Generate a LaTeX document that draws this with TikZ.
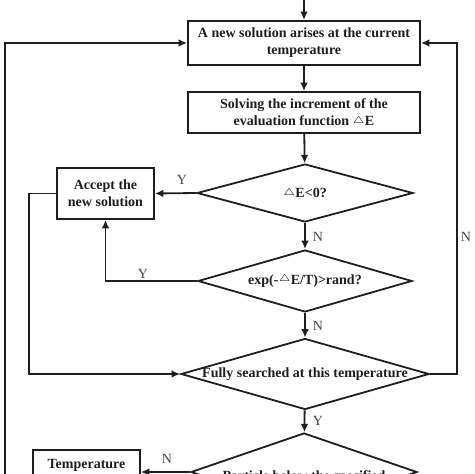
\documentclass[tikz,border=0pt]{standalone}
\usepackage{fontspec}
\setmainfont{Liberation Serif}
\usepackage{tikz}
\usetikzlibrary{arrows.meta,positioning,shapes.geometric}
\definecolor{flowline}{RGB}{30,30,30}
\definecolor{ynlabel}{RGB}{70,70,70}
\newcommand{\dE}{\raisebox{0.4ex}{\tiny$\triangle$}E}

\begin{document}
\begin{tikzpicture}[x=0.5pt,y=-0.5pt,line width=0.9pt,color=flowline,
  arr/.style={-{Latex[length=4.2pt,width=3.8pt]}},
  proc/.style={draw,rectangle,align=center,font=\fontsize{7}{8.5}\selectfont\bfseries,inner sep=1pt},
  dectext/.style={font=\fontsize{7}{8.5}\selectfont\bfseries,inner sep=0pt},
  dec/.style={draw,diamond,inner sep=0pt,label={[dectext]center:#1}},
  yn/.style={font=\fontsize{7}{8}\selectfont,text=ynlabel,inner sep=0pt}]
\clip (0,0) rectangle (474,474);
% boxes
\node[proc,minimum width=116pt,minimum height=22pt] (newsol) at (304,43) {A new solution arises at the current\\temperature};
\node[proc,minimum width=116pt,minimum height=20.5pt] (incr) at (304,112.5) {Solving the increment of the\\evaluation function \dE};
\node[proc,minimum width=48.5pt,minimum height=25.5pt] (accept) at (105.5,193.5) {Accept the\\new solution};
\node[proc,minimum width=53.5pt,minimum height=22pt] (temp) at (86.5,472) {Temperature\\\mbox{}};
% decisions
\node[dec={\dE<0?},minimum width=108pt,minimum height=29pt] (negE) at (305,193) {};
\node[dec={exp(-\dE/T)>rand?},minimum width=107pt,minimum height=31pt] (metro) at (305,281) {};
\node[dec={Fully searched at this temperature},minimum width=124pt,minimum height=35.5pt] (full) at (305,374) {};
\node[draw,diamond,inner sep=0pt,minimum width=113pt,minimum height=39pt,
  label={[dectext,yshift=-2.5pt]center:Particle below the specified}] (lowT) at (304,472) {};
% corner points
\coordinate (start) at (304,0);
\coordinate (lloop) at (29,193.5);
\coordinate (rloop) at (457,374);
\coordinate (outer) at (5,510);
% flow
\draw[arr] (start) -- (newsol);
\draw[arr] (newsol) -- (incr);
\draw[arr] (incr) -- (negE);
\draw[arr] (negE.west) -- (accept.east);
\draw[arr] (negE) -- (metro);
\draw[arr] (metro.west) -| (accept.south);
\draw[arr] (metro) -- (full);
\draw[arr] (accept.west) -- (lloop) |- (full.west);
\draw[arr] (full.east) -- (rloop) |- (newsol.east);
\draw[arr] (full) -- (lowT);
\draw[arr] (lowT.west) -- (temp.east);
\draw[arr] (temp.south) |- (outer) |- (newsol.west);
% Y / N
\node[yn] (y1) at (182,180) {Y};
\node[yn] (n1) at (318,237) {N};
\node[yn] (y2) at (143,274) {Y};
\node[yn] (n2) at (318,326) {N};
\node[yn] (n3) at (466,237) {N};
\node[yn] (y3) at (318,421) {Y};
\node[yn] (n4) at (167,459) {N};
\end{tikzpicture}
\end{document}
